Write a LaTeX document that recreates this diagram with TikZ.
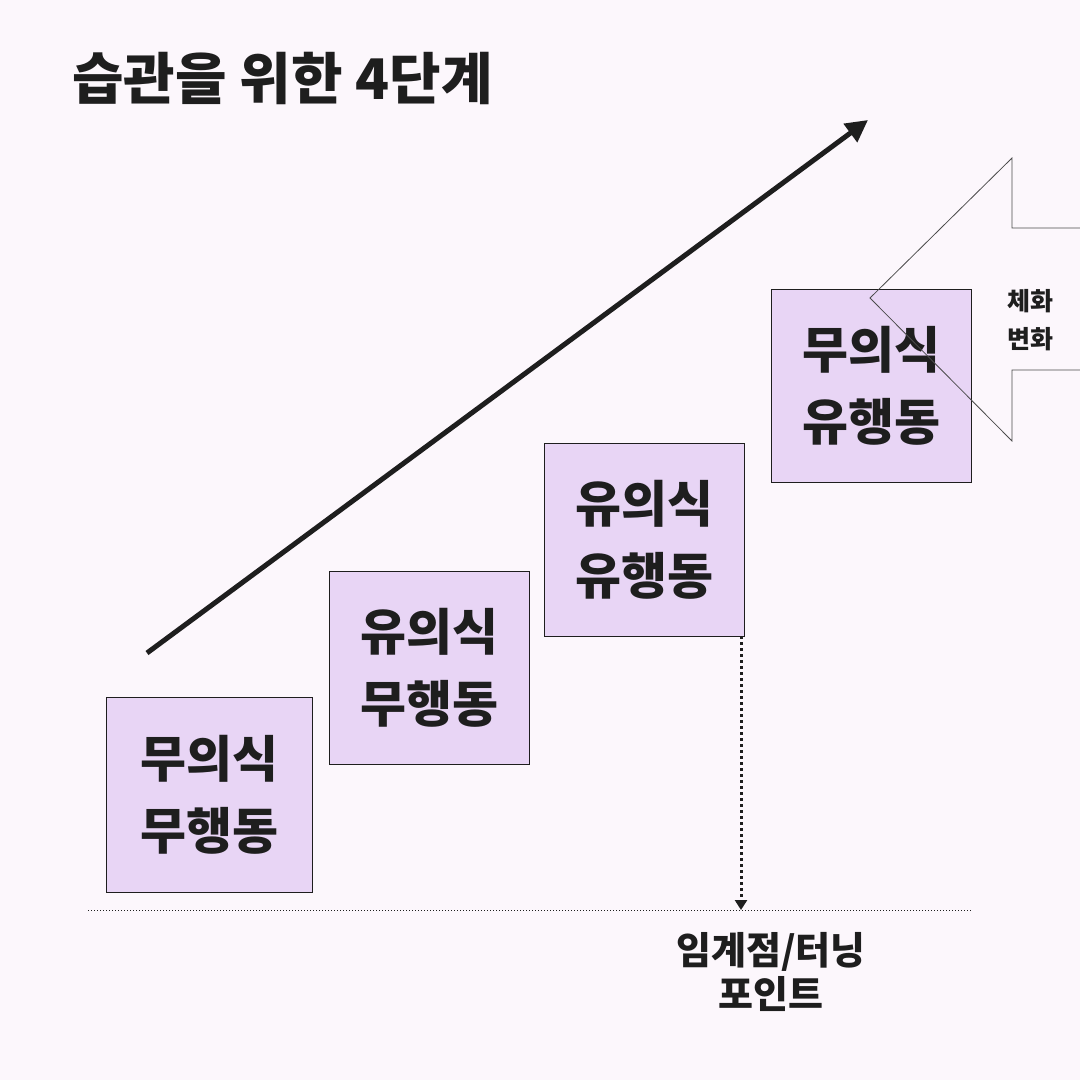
\documentclass[tikz,border=0pt]{standalone}
\usepackage{fontspec}
\usetikzlibrary{arrows.meta}
\newfontfamily\kr{Noto Sans CJK KR}
\definecolor{bg}{HTML}{FCF7FC}
\definecolor{box}{HTML}{E8D5F5}
\definecolor{ink}{HTML}{1E1E1E}
\tikzset{
  stepbox/.style={draw=ink, line width=0.8pt, fill=box, minimum width=#1, inner sep=0pt, font=\kr\bfseries\fontsize{50}{72}\selectfont, align=center, text=ink},
  lbl/.style={font=\kr\bfseries, text=ink, align=center, inner sep=0pt}
}
\begin{document}
\begin{tikzpicture}[x=1pt,y=-1pt]
\fill[bg] (0,0) rectangle (1080,1080);
\useasboundingbox (0,0) rectangle (1080,1080);
\node[lbl, anchor=west, font=\kr\bfseries\fontsize{56}{60}\selectfont] (title) at (72,78) {습관을 위한 4단계};
% boxes
\node[stepbox=206pt, minimum height=195pt] (b1) at (209,794.5) {무의식\\무행동};
\node[stepbox=200pt, minimum height=193pt] (b2) at (429,667.5) {유의식\\무행동};
\node[stepbox=200pt, minimum height=193pt] (b3) at (644,539.5) {유의식\\유행동};
\node[stepbox=200pt, minimum height=193pt] (b4) at (871,385.5) {무의식\\유행동};
% block arrow
\begin{scope}
\clip (0,0) rectangle (1080,1080);
\draw[ink!80, line width=0.8pt] (1090,228) -- (1012,228) -- (1012,158) -- (870,298) -- (1012,441) -- (1012,370) -- (1090,370);
\end{scope}
\node[lbl, font=\kr\bfseries\fontsize{25}{38}\selectfont] (ch) at (1030,320) {체화\\변화};
% big arrow
\coordinate (s) at (147,653);
\coordinate (e) at (868,120);
\draw[line width=5pt, -{Triangle[length=22pt,width=22pt]}, ink] (s) -- (e);
% threshold
\coordinate (hl) at (88,910);
\coordinate (hr) at (972,910);
\draw[ink, line width=1pt, dotted] (hl) -- (hr);
\coordinate (t) at (741,910);
\draw[ink, line width=3pt, dash pattern=on 3pt off 3pt, -{Triangle[length=10pt,width=12pt]}] (b3.south east -| t) -- (t);
\node[lbl, font=\kr\bfseries\fontsize{38}{44}\selectfont] (tp) at (771,972) {임계점/터닝\\포인트};
\end{tikzpicture}
\end{document}
